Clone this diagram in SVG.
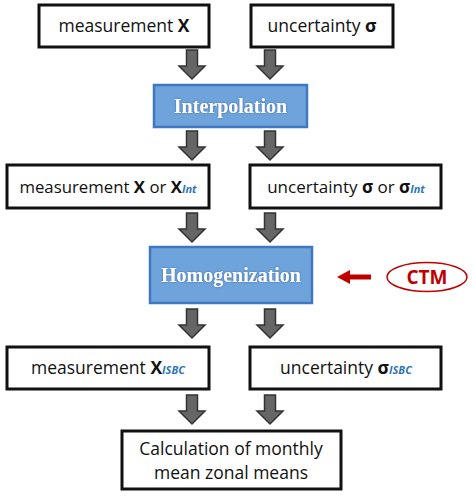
<svg xmlns="http://www.w3.org/2000/svg" width="474" height="496" viewBox="0 0 474 496">
<style>
.box{fill:#fff;stroke:#111;stroke-width:3}
.proc{fill:#6fa3dc;stroke:#3f78c0;stroke-width:2.5}
.t{font-family:"Open Sans","Liberation Sans",sans-serif;font-size:17.5px;fill:#111;text-anchor:middle}
.b{font-weight:bold}
.sub{font-style:italic;font-weight:bold;font-size:11px;fill:#2e75b6}
.pt{font-family:"Liberation Serif",serif;font-weight:bold;font-size:20px;fill:#fff;text-anchor:middle}
.arr{fill:#666;stroke:#333;stroke-width:1.5}
</style>
<defs>
<path id="dn" d="M-5.5,0 H5.5 V16 H13 L0,29 L-13,16 H-5.5 Z"/>
<filter id="glow" x="-10%" y="-30%" width="120%" height="160%">
<feGaussianBlur in="SourceAlpha" stdDeviation="1.2" result="b"/>
<feFlood flood-color="#2a5a90" flood-opacity="0.7"/>
<feComposite in2="b" operator="in"/>
<feMerge><feMergeNode/><feMergeNode in="SourceGraphic"/></feMerge>
</filter>
</defs>
<g id="connectors">
<use href="#dn" class="arr" x="192" y="50"/>
<use href="#dn" class="arr" x="270" y="50"/>
<use href="#dn" class="arr" x="192" y="131"/>
<use href="#dn" class="arr" x="270" y="131"/>
<use href="#dn" class="arr" x="192" y="213"/>
<use href="#dn" class="arr" x="270" y="213"/>
<use href="#dn" class="arr" x="192" y="309"/>
<use href="#dn" class="arr" x="270" y="309"/>
<use href="#dn" class="arr" x="192" y="395"/>
<use href="#dn" class="arr" x="270" y="395"/>
<path d="M371,277 H349" stroke="#c00000" stroke-width="5" fill="none"/>
<path d="M337,277 L350,270 L350,284 Z" fill="#c00000"/>
</g>
<g id="n1"><rect class="box" x="39" y="5" width="170" height="42"/>
<text class="t" x="124" y="32">measurement <tspan class="b">X</tspan></text></g>
<g id="n2"><rect class="box" x="251" y="5" width="142" height="42"/>
<text class="t" x="322" y="32">uncertainty <tspan class="b">σ</tspan></text></g>
<g id="interp"><rect class="proc" x="154" y="85" width="153" height="42"/>
<text class="pt" x="230.5" y="113" filter="url(#glow)">Interpolation</text></g>
<g id="n3"><rect class="box" x="7" y="165" width="202" height="43"/>
<text class="t" x="108" y="193" style="font-size:16.8px">measurement <tspan class="b">X</tspan> or <tspan class="b">X</tspan><tspan class="sub">Int</tspan></text></g>
<g id="n4"><rect class="box" x="250" y="165" width="191" height="43"/>
<text class="t" x="346" y="193" style="font-size:17px">uncertainty <tspan class="b">σ</tspan> or <tspan class="b">σ</tspan><tspan class="sub">Int</tspan></text></g>
<g id="homog"><rect class="proc" x="150" y="247" width="162" height="56"/>
<text class="pt" x="231" y="282" filter="url(#glow)">Homogenization</text></g>
<g id="ctm"><ellipse cx="427" cy="277" rx="40" ry="14.5" fill="#fff" stroke="#c00000" stroke-width="1.5"/>
<text class="t b" x="427" y="284" style="fill:#c00000;font-size:19px">CTM</text></g>
<g id="n5"><rect class="box" x="7" y="347" width="202" height="42"/>
<text class="t" x="108" y="374">measurement <tspan class="b">X</tspan><tspan class="sub">ISBC</tspan></text></g>
<g id="n6"><rect class="box" x="250" y="347" width="191" height="42"/>
<text class="t" x="346" y="374">uncertainty <tspan class="b">σ</tspan><tspan class="sub">ISBC</tspan></text></g>
<g id="n7"><rect class="box" x="122" y="431" width="219" height="58"/>
<text class="t" x="231" y="455">Calculation of monthly</text>
<text class="t" x="231" y="479">mean zonal means</text></g>
</svg>
